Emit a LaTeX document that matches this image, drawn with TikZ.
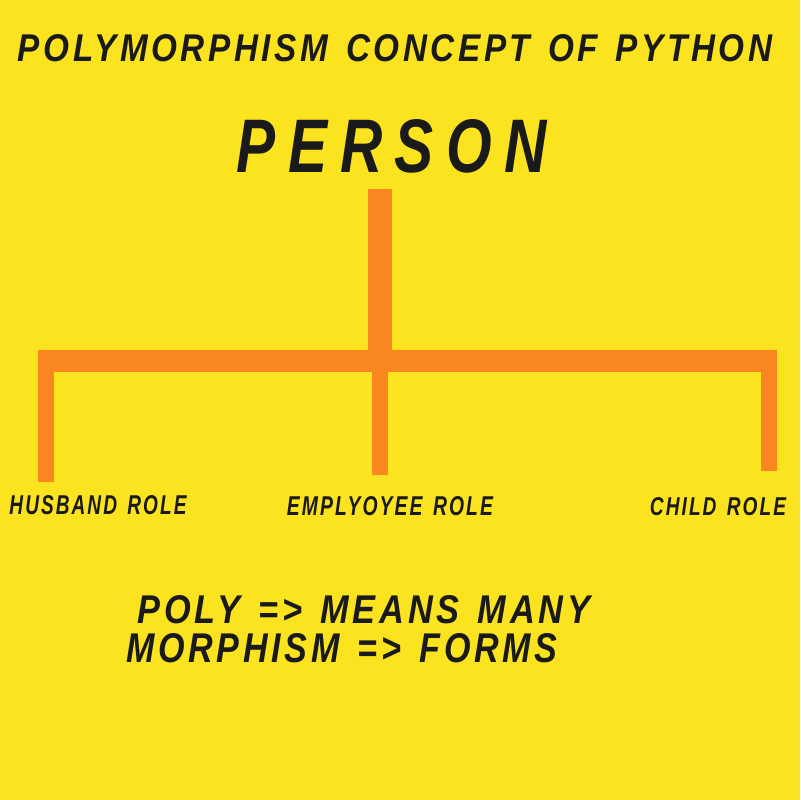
\documentclass[tikz,border=0pt]{standalone}
\usepackage{fontspec}
\usepackage{graphicx}
\setmainfont{Liberation Sans}
\newfontfamily\posterfont{Liberation Sans}[LetterSpace=9,FakeStretch=0.84,WordSpace=1.4]
\newfontfamily\headfont{Liberation Sans}[LetterSpace=18,FakeStretch=0.84]
\newlength\px
\setlength\px{0.7113pt}
\definecolor{posteryellow}{HTML}{FCE31F}
\definecolor{barorange}{HTML}{F98621}
\definecolor{inkblack}{HTML}{1A1A1A}
\newcommand\fitline[3]{\resizebox{#1\px}{#2\px}{\posterfont\bfseries\itshape #3}}
\newcommand\fithead[3]{\resizebox{#1\px}{#2\px}{\headfont\bfseries\itshape #3}}
\begin{document}
\begin{tikzpicture}[x=0.025cm, y=-0.025cm,
  word/.style={inner sep=0, anchor=base, text=inkblack},
  trunk/.style={barorange, line width=17.07pt},
  crossbar/.style={barorange, line width=15.65pt},
  drop/.style={barorange, line width=11.38pt}]
\fill[posteryellow] (0,0) rectangle (800,800);
\useasboundingbox (0,0) rectangle (800,800);
\node[word] (title) at (395, 62) {\fitline{754}{27}{POLYMORPHISM CONCEPT OF PYTHON}};
\node[word] (person) at (392, 173) {\fithead{310}{53}{PERSON}};
\node[word] (husband) at (98, 514) {\fitline{177}{19}{HUSBAND ROLE}};
\node[word] (employee) at (390, 515) {\fitline{206}{19}{EMPLYOYEE ROLE}};
\node[word] (child) at (718, 515) {\fitline{136}{18}{CHILD ROLE}};
\node[word] (poly) at (364, 623) {\fitline{452}{28}{POLY => MEANS MANY}};
\node[word] (morph) at (342, 662) {\fitline{431}{29}{MORPHISM => FORMS}};
\coordinate (trunktop) at (380, 189);
\coordinate (hub) at (380, 361);
\coordinate (barleft) at (38, 361);
\coordinate (barright) at (777, 361);
\coordinate (husbandend) at (46, 482);
\coordinate (employeeend) at (380, 475);
\coordinate (childend) at (769, 471);
\draw[trunk] (trunktop) -- (hub);
\draw[crossbar] (barleft) -- (barright);
\draw[drop] (husbandend |- hub) -- (husbandend);
\draw[drop] (hub) -- (employeeend);
\draw[drop] (childend |- hub) -- (childend);
\end{tikzpicture}
\end{document}
